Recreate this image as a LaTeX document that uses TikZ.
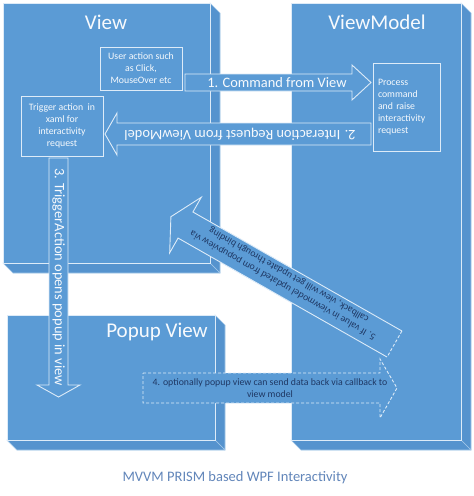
\documentclass[tikz,border=0pt]{standalone}
\usepackage{fontspec}
\setmainfont{Carlito}
\definecolor{boxblue}{HTML}{5B9BD5}
\definecolor{sideblue}{HTML}{5593CE}
\definecolor{edge}{HTML}{DDEBF8}
\definecolor{navy}{HTML}{1F3864}
\definecolor{captionc}{HTML}{6286BA}
\definecolor{wtext}{HTML}{F7FAFD}
\begin{document}
\begin{tikzpicture}[x=1pt,y=-1pt,
  front/.style={draw=edge, line width=0.9pt, fill=boxblue, outer sep=0pt, inner sep=0pt},
  side/.style={draw=edge!55!boxblue, line width=0.7pt, fill=sideblue, line join=round},
  inbox/.style={draw=edge, line width=0.9pt, fill=boxblue, text=wtext, font=\fontsize{9.8}{12}\selectfont, align=center, inner sep=2pt},
  blockarrow/.style={draw=edge, line width=0.9pt, fill=boxblue, line join=miter},
  dashedge/.style={dash pattern=on 3pt off 2pt},
  ttl/.style={text=wtext, font=\fontsize{21}{25}\selectfont, inner sep=0pt},
  atxt/.style={text=wtext, font=\fontsize{14.4}{16}\selectfont, inner sep=0pt},
  dtxt/.style={text=navy, font=\fontsize{9.8}{12}\selectfont, align=center, inner sep=0pt},
]
\useasboundingbox (0,0) rectangle (474,496);
\fill[white] (0,0) rectangle (474,496);

% View box
\draw[side] (210,3) -- (220,13) -- (220,273) -- (210,263) -- cycle;
\draw[side] (3,263) -- (13,273) -- (220,273) -- (210,263) -- cycle;
\node[front, anchor=north west, minimum width=207pt, minimum height=260pt] (view) at (3,3) {};
\node[ttl] (viewt) at (106,22) {View};

% ViewModel box
\draw[side] (461,3) -- (471,13) -- (471,450) -- (461,440) -- cycle;
\draw[side] (291,440) -- (301,450) -- (471,450) -- (461,440) -- cycle;
\node[front, anchor=north west, minimum width=170pt, minimum height=437pt] (vm) at (291,3) {};
\node[ttl] (vmt) at (377,22) {ViewModel};

% Popup View box
\draw[side] (215,315) -- (225,325) -- (225,450) -- (215,440) -- cycle;
\draw[side] (7,440) -- (17,450) -- (225,450) -- (215,440) -- cycle;
\node[front, anchor=north west, minimum width=208pt, minimum height=125pt] (pv) at (7,315) {};
\node[ttl] (pvt) at (157,332) {Popup View};

% inner boxes
\node[inbox, minimum width=82pt, minimum height=43pt] (ua) at (141,68.5) {User action such\\as Click,\\MouseOver etc};
\node[inbox, minimum width=82pt, minimum height=60pt] (tr) at (62,126) {Trigger action\ \ in\\xaml for\\interactivity\\request};
\node[inbox, align=left, text width=57pt, inner sep=5pt, minimum width=67pt, minimum height=88pt] (pc) at (406.5,107) {Process\\command\\and raise\\interactivity\\request};

% arrow 1
\draw[blockarrow] (185,74) -- (352,74) -- (352,65) -- (371,82.5) -- (352,100) -- (352,91) -- (185,91) -- cycle;
\node[atxt] (a1) at (277,82.5) {1. Command from View};

% arrow 2
\draw[blockarrow] (371,123) -- (117,123) -- (117,113) -- (105,134) -- (117,155) -- (117,145) -- (371,145) -- cycle;
\node[atxt, rotate=180] (a2) at (240,134) {2. Interaction Request from ViewModel};

% arrow 3
\draw[blockarrow] (49,158) -- (49,385) -- (37,385) -- (58.5,397) -- (80,385) -- (68,385) -- (68,158) -- cycle;
\node[atxt, rotate=-90] (a3) at (58.5,277) {3. TriggerAction opens popup in view};

% arrow 4
\draw[blockarrow, dashedge] (143,373) -- (380,373) -- (380,359) -- (397,388) -- (380,418) -- (380,403) -- (143,403) -- cycle;
\node[dtxt] (a4) at (270,388) {4. optionally popup view can send data back via callback to\\view model};

% arrow 5
\begin{scope}[shift={(394.5,344)}, rotate=150.35]
  \fill[boxblue] (0,-15) -- (240.5,-15) -- (240.5,-32) -- (257.3,0) -- (240.5,32) -- (240.5,15) -- (0,15) -- cycle;
  \draw[edge, line width=0.9pt, line join=miter] (0,-15) -- (240.5,-15) -- (240.5,-32) -- (257.3,0) -- (240.5,32) -- (240.5,15) -- (0,15);
  \draw[edge, line width=0.9pt, dashedge] (0,15) -- (0,-15);
\end{scope}
\node[dtxt, rotate=150.35] (a5) at (286,280) {5. If value in viewmodel updated from popupview via\\callback, view will get update through binding};

% caption
\node[text=captionc, font=\fontsize{14.5}{17}\selectfont, inner sep=0pt] (cap) at (235,478) {MVVM PRISM based WPF Interactivity};
\end{tikzpicture}
\end{document}
